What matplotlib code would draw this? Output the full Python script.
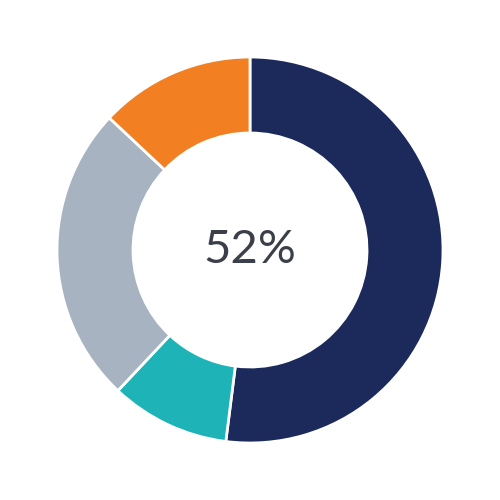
import matplotlib
matplotlib.use("Agg")
import matplotlib.pyplot as plt

# share of each segment, clockwise from the top
labels = ["Navy", "Teal", "Gray", "Orange"]
values = [52, 10, 25, 13]
colors = ["#1b2a5a", "#1db3b7", "#a8b3c2", "#f27f22"]
center_text = "52%"

fig = plt.figure(figsize=(5, 5), dpi=100)
ax = fig.add_axes([0, 0, 1, 1])
ax.pie(values, colors=colors, startangle=90, counterclock=False,
       radius=0.772,
       wedgeprops=dict(width=0.304, edgecolor="white", linewidth=2))
ax.text(0, 0, center_text, ha="center", va="center", fontsize=34,
        family="Lato", color="#3b3f4a")
ax.set_xlim(-1, 1)
ax.set_ylim(-1, 1)
ax.set_aspect("equal")
ax.axis("off")
fig.savefig("out.png", dpi=100, facecolor="white")
